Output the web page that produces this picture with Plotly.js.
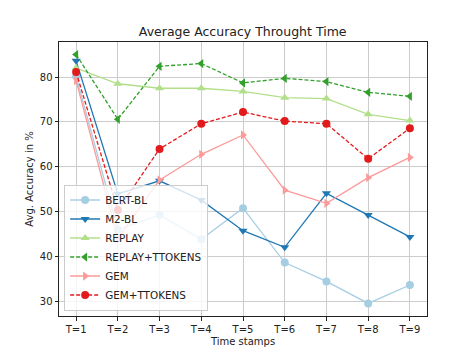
<!DOCTYPE html>
<html>
<head>
<meta charset="utf-8">
<script src="https://cdn.plot.ly/plotly-3.0.1.min.js"></script>
<style>
html,body{margin:0;padding:0;background:#fff;}
#chart{width:474px;height:355px;}
</style>
</head>
<body>
<div id="chart"></div>
<script>
const timeStamps = ["T=1","T=2","T=3","T=4","T=5","T=6","T=7","T=8","T=9"];
const bertBL     = [80.2, 46.0, 49.3, 43.9, 50.8, 38.7, 34.5, 29.6, 33.7];
const m2BL       = [83.6, 54.0, 56.9, 52.6, 45.8, 42.1, 54.1, 49.3, 44.4];
const replay     = [82.0, 78.5, 77.5, 77.5, 76.8, 75.4, 75.2, 71.7, 70.3];
const replayTT   = [85.0, 70.6, 82.4, 83.0, 78.7, 79.7, 79.0, 76.6, 75.7];
const gem        = [79.2, 44.0, 57.1, 62.8, 67.1, 54.8, 51.9, 57.6, 62.1];
const gemTT      = [81.1, 50.4, 64.0, 69.6, 72.2, 70.2, 69.6, 61.8, 68.6];
const seriesNames = ["BERT-BL","M2-BL","REPLAY","REPLAY+TTOKENS","GEM","GEM+TTOKENS"];

const styles = [
  {color:"#a6cee3", symbol:"circle", dash:"solid"},
  {color:"#1f78b4", symbol:"triangle-down", dash:"solid"},
  {color:"#b2df8a", symbol:"triangle-up", dash:"solid"},
  {color:"#33a02c", symbol:"triangle-left", dash:"dash"},
  {color:"#fb9a99", symbol:"triangle-right", dash:"solid"},
  {color:"#e31a1c", symbol:"circle", dash:"dash"}
];
const allSeries = [bertBL, m2BL, replay, replayTT, gem, gemTT];

const traces = allSeries.map((vals, i) => ({
  x: timeStamps,
  y: vals,
  name: seriesNames[i],
  type: "scatter",
  mode: "lines+markers",
  line: {color: styles[i].color, width: 1.3, dash: styles[i].dash === "dash" ? "4px,2px" : "solid"},
  marker: {color: styles[i].color, symbol: styles[i].symbol, size: 8}
}));

const layout = {
  width: 474, height: 355,
  paper_bgcolor: "#fff", plot_bgcolor: "#fff",
  margin: {l: 59, r: 47, t: 42, b: 39},
  font: {family: "DejaVu Sans, sans-serif", size: 10, color: "#222"},
  title: {text: "Average Accuracy Throught Time", x: 0.512, xanchor: "center", y: 0.91, yanchor: "middle",
          font: {size: 12.5, color: "#222"}},
  xaxis: {
    type: "category", categoryorder: "array", categoryarray: timeStamps,
    range: [-0.41, 8.41],
    showgrid: true, gridcolor: "#cccccc", gridwidth: 1,
    showline: true, linecolor: "#222", linewidth: 1, mirror: true,
    ticks: "outside", ticklen: 3.5, tickcolor: "#222",
    tickfont: {size: 10},
    title: {text: "Time stamps", font: {size: 10}, standoff: 4},
    zeroline: false
  },
  yaxis: {
    range: [26.8, 87.8],
    tickvals: [30,40,50,60,70,80],
    showgrid: true, gridcolor: "#cccccc", gridwidth: 1,
    showline: true, linecolor: "#222", linewidth: 1, mirror: true,
    ticks: "outside", ticklen: 3.5, tickcolor: "#222",
    tickfont: {size: 10},
    title: {text: "Avg. Accuracy in %", font: {size: 10}, standoff: 4},
    zeroline: false
  },
  showlegend: true,
  legend: {
    x: 0.014, y: 0.02, xanchor: "left", yanchor: "bottom",
    bgcolor: "rgba(255,255,255,0.8)", bordercolor: "#cccccc", borderwidth: 1,
    font: {size: 10.4, color: "#222"},
    tracegroupgap: 0, itemwidth: 30
  }
};

Plotly.newPlot("chart", traces, layout, {staticPlot: true, displayModeBar: false});
</script>
</body>
</html>
